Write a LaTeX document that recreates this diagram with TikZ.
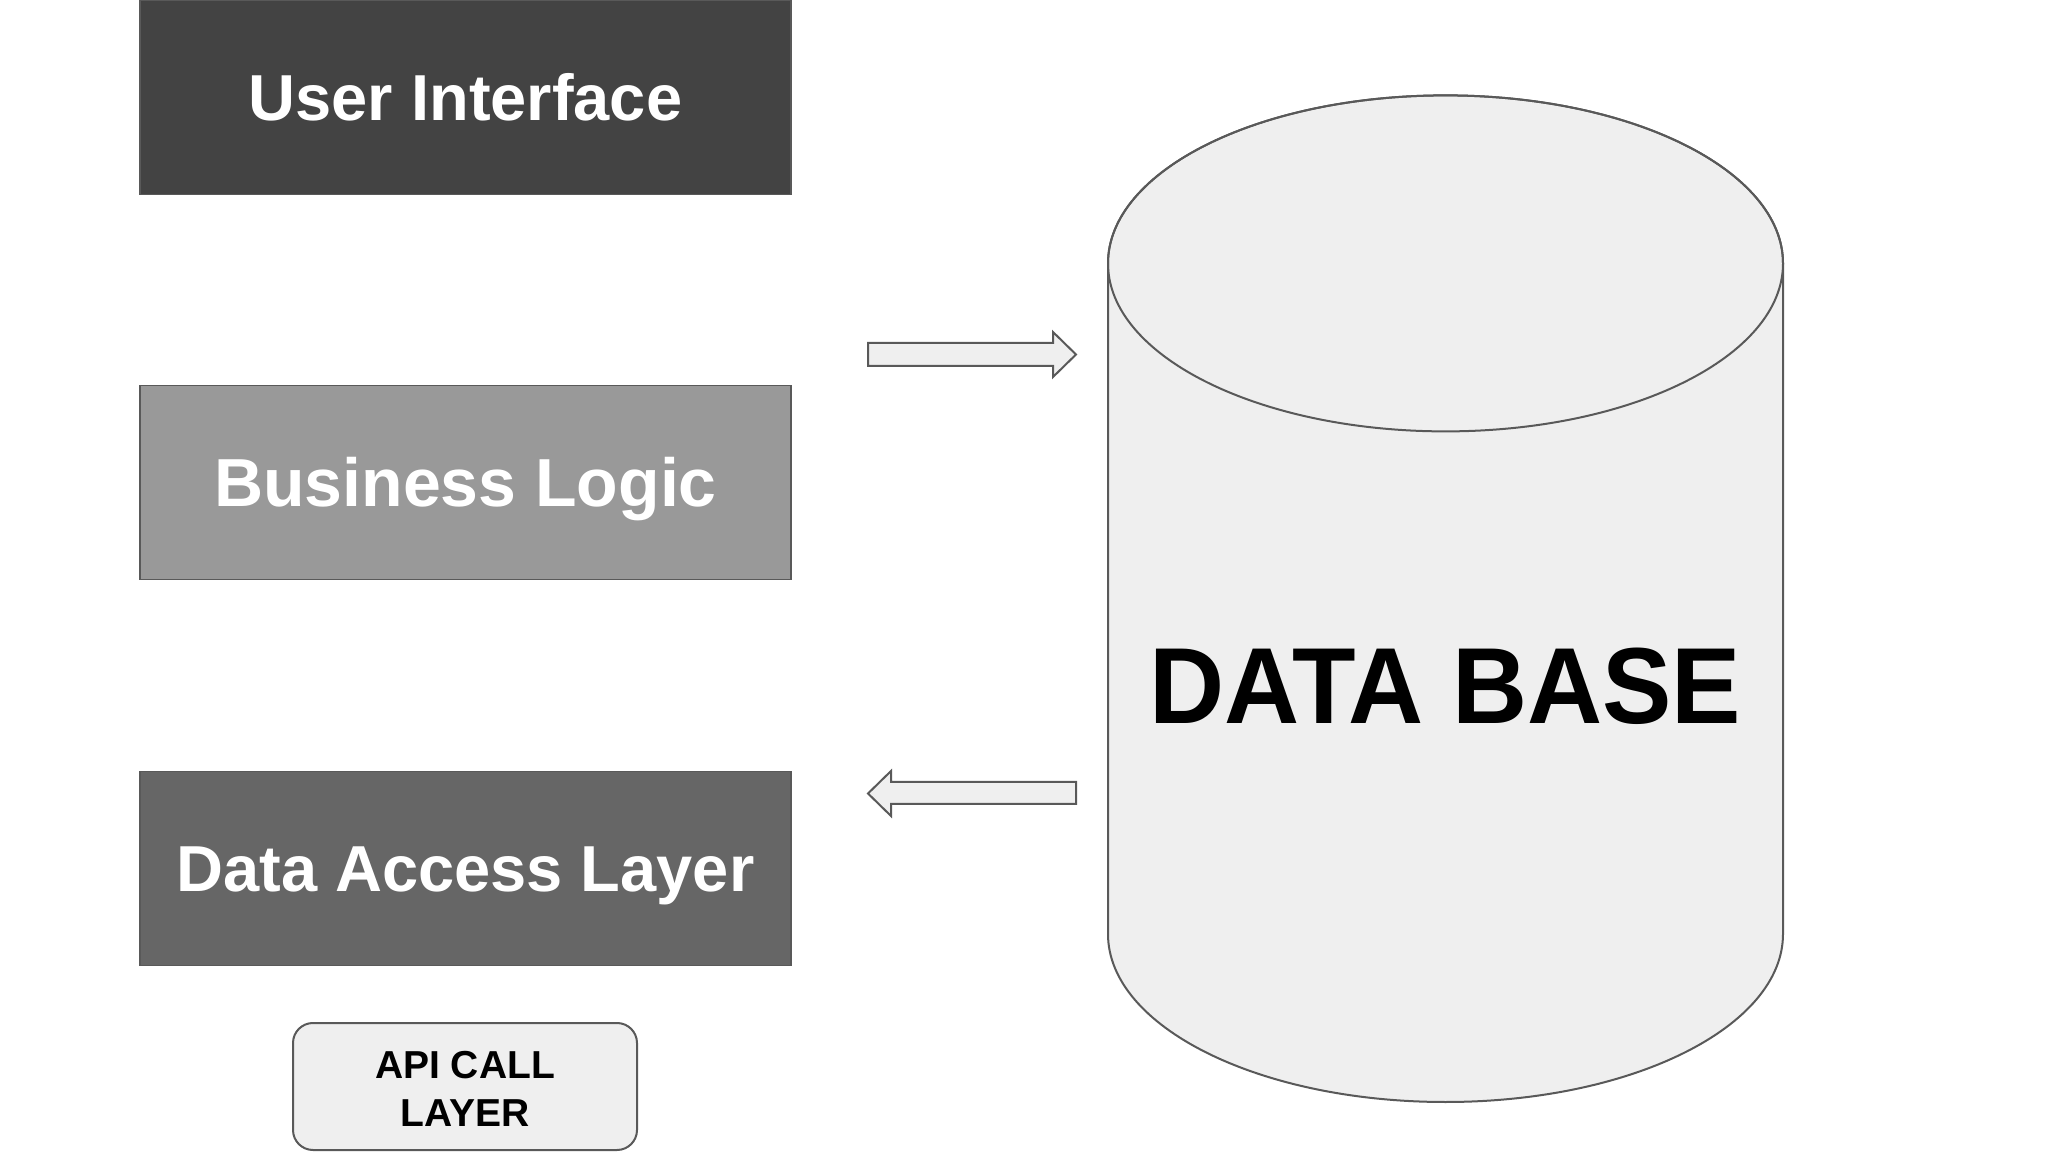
\documentclass[tikz,border=0pt]{standalone}
\usepackage{fontspec}
\setmainfont{Liberation Sans}
\definecolor{uigray}{HTML}{434343}
\definecolor{blgray}{HTML}{999999}
\definecolor{dalgray}{HTML}{666666}
\definecolor{lightfill}{HTML}{EFEFEF}
\definecolor{edge}{HTML}{595959}
\begin{document}
\begin{tikzpicture}[x=1pt,y=1pt,
  layerbox/.style={draw=edge, line width=1.5pt, minimum width=651pt, minimum height=194pt,
    inner sep=0pt, text=white, font=\fontsize{65}{70}\selectfont\bfseries,
    text height=47pt, text depth=0pt},
  apibox/.style={draw=edge, line width=2pt, fill=lightfill, rounded corners=20pt,
    minimum width=344pt, minimum height=127pt, inner sep=0pt},
  blockarrow/.style={draw=edge, line width=2pt, fill=lightfill, line join=miter},
  dbline/.style={draw=edge, line width=2pt}
]
\useasboundingbox (0,0) rectangle (2048,1152);
\fill[white] (0,0) rectangle (2048,1152);

% layer boxes
\node[layerbox, fill=uigray] (ui) at (465.5,1054.5) {User Interface};
\node[layerbox, fill=blgray, font=\fontsize{68}{72}\selectfont\bfseries, text height=49pt] (bl) at (465.5,669.5) {Business Logic};
\node[layerbox, fill=dalgray] (dal) at (465.5,283.5) {Data Access Layer};

% API call layer
\node[apibox] (api) at (465,65.5) {};
\node[font=\fontsize{39}{48}\selectfont\bfseries, align=center, anchor=base] (apitext) at (465,26) {API CALL\\LAYER};

% database cylinder
\path[dbline, fill=lightfill] (1108,888.6) -- (1108,218) arc[start angle=180, end angle=360, x radius=337.5, y radius=168] -- (1783,888.6) arc[start angle=0, end angle=180, x radius=337.5, y radius=168] -- cycle;
\draw[dbline] (1445.5,888.6) ellipse[x radius=337.5, y radius=168];
\node[font=\fontsize{104}{110}\selectfont\bfseries, text height=78pt, text depth=0pt, inner sep=0pt] (db) at (1445.5,467) {\scalebox{1}[1.04]{DATA BASE}};

% block arrows
\draw[blockarrow] (868,786) -- (1053,786) -- (1053,775) -- (1076,797.5) -- (1053,820) -- (1053,809) -- (868,809) -- cycle;
\draw[blockarrow] (1076,348) -- (891,348) -- (891,336) -- (868,358.5) -- (891,381) -- (891,370) -- (1076,370) -- cycle;
\end{tikzpicture}
\end{document}
